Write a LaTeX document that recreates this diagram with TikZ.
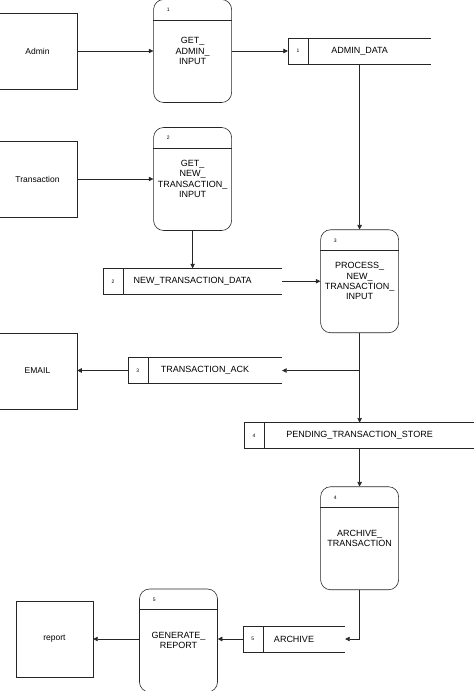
\documentclass[tikz,border=0pt]{standalone}
\usepackage{fontspec}
\setmainfont{Liberation Sans}
\usetikzlibrary{arrows.meta}
\usetikzlibrary{positioning}
\tikzset{
    entity/.style={
      rectangle,
           draw=black!85, line width=0.6pt,
           inner sep=2pt,
           text centered,
           minimum width=79pt,
           minimum height=76pt,
           font=\fontsize{8.5}{10}\selectfont,
           },
}
\tikzset{
    process/.style={
      rectangle,
           draw=black!85, line width=0.6pt,
           rounded corners=10pt,
           inner sep=0pt,
           align=center,
           minimum width=78pt,
           minimum height=103pt,
           font=\fontsize{9}{10.4}\selectfont,
           },
}
\tikzset{
    store/.style={
      rectangle,
           draw=none,
           inner sep=0pt,
           text centered,
           minimum height=25.5pt,
           font=\fontsize{9}{10.4}\selectfont,
           },
}
\tikzset{
    num/.style={
      inner sep=0pt,
           font=\fontsize{5}{6}\selectfont,
           },
}
\tikzset{
    edge/.style={-{Triangle[length=4.5pt,width=4.5pt]},draw=black!85,line width=0.6pt},
    wall/.style={draw=black!85,line width=0.6pt},
}

\begin{document}
\begin{tikzpicture}[x=1pt,y=-1pt]

\useasboundingbox (0,0) rectangle (474,691);

% entities and processes, top to bottom
\node[entity](adm) at (37.5,51){Admin};
\node[process,right = 76pt of adm](p1){GET\_\\ADMIN\_\\INPUT};
\node[store,minimum width=143pt,right = 56pt of p1](s1){ADMIN\_DATA};

\node[entity](trn) at (37.5,179){Transaction};
\node[process,right = 76pt of trn](p2){GET\_\\NEW\_\\TRANSACTION\_\\INPUT};
\node[store,minimum width=179pt,below = 37.5pt of p2](s2){NEW\_TRANSACTION\_DATA};

\node[process,right = 38pt of s2](p3){PROCESS\_\\NEW\_\\TRANSACTION\_\\INPUT};

\node[entity](eml) at (37.5,371){EMAIL};
\node[store,minimum width=154pt](s3) at (205,370.5){TRANSACTION\_ACK};

\node[store,minimum width=231pt,below = 89.5pt of p3](s4){PENDING\_TRANSACTION\_STORE};
\node[process,below = 38pt of s4](p4){ARCHIVE\_\\TRANSACTION};

\node[store,minimum width=102pt](s5) at (294,639){ARCHIVE};
\node[process,left = 25pt of s5,yshift=-1.5pt](p5){GENERATE\_\\REPORT};
\node[entity,minimum width=77pt,left = 46pt of s5.west -| p5.west](rep){report};

% process headers
\draw[wall] ([yshift=-21pt]p1.north west) -- ([yshift=-21pt]p1.north east);
\node[num](p1n) at ([xshift=15pt,yshift=-11pt]p1.north west){1};
\draw[wall] ([yshift=-21pt]p2.north west) -- ([yshift=-21pt]p2.north east);
\node[num](p2n) at ([xshift=15pt,yshift=-11pt]p2.north west){2};
\draw[wall] ([yshift=-21pt]p3.north west) -- ([yshift=-21pt]p3.north east);
\node[num](p3n) at ([xshift=15pt,yshift=-11pt]p3.north west){3};
\draw[wall] ([yshift=-21pt]p4.north west) -- ([yshift=-21pt]p4.north east);
\node[num](p4n) at ([xshift=15pt,yshift=-11pt]p4.north west){4};
\draw[wall] ([yshift=-21pt]p5.north west) -- ([yshift=-21pt]p5.north east);
\node[num](p5n) at ([xshift=15pt,yshift=-11pt]p5.north west){5};

% open stores
\draw[wall] (s1.north east) -- (s1.north west) -- (s1.south west) -- (s1.south east);
\draw[wall] ([xshift=20pt]s1.north west) -- ([xshift=20pt]s1.south west);
\node[num](s1n) at ([xshift=10pt]s1.west){1};
\draw[wall] (s2.north east) -- (s2.north west) -- (s2.south west) -- (s2.south east);
\draw[wall] ([xshift=20pt]s2.north west) -- ([xshift=20pt]s2.south west);
\node[num](s2n) at ([xshift=10pt]s2.west){2};
\draw[wall] (s3.north east) -- (s3.north west) -- (s3.south west) -- (s3.south east);
\draw[wall] ([xshift=20pt]s3.north west) -- ([xshift=20pt]s3.south west);
\node[num](s3n) at ([xshift=10pt]s3.west){3};
\draw[wall] (s4.north east) -- (s4.north west) -- (s4.south west) -- (s4.south east);
\draw[wall] ([xshift=20pt]s4.north west) -- ([xshift=20pt]s4.south west);
\node[num](s4n) at ([xshift=10pt]s4.west){4};
\draw[wall] (s5.north east) -- (s5.north west) -- (s5.south west) -- (s5.south east);
\draw[wall] ([xshift=20pt]s5.north west) -- ([xshift=20pt]s5.south west);
\node[num](s5n) at ([xshift=10pt]s5.west){5};

% flows
\draw[edge] (adm.east) -- (p1.west |- adm.east);
\draw[edge] (p1.east |- s1.west) -- (s1.west);
\draw[edge] (s1.south) -- (p3.north);
\draw[edge] (trn.east) -- (p2.west |- trn.east);
\draw[edge] (p2.south) -- (s2.north);
\draw[edge] (s2.east) -- (p3.west |- s2.east);
\draw[edge] (p3.south) -- (s4.north);
\draw[edge] (p3.south |- s3.east) -- (s3.east);
\draw[edge] (s3.west) -- (eml.east |- s3.west);
\draw[edge] (s4.south) -- (p4.north);
\draw[edge] (p4.south) |- (s5.east);
\draw[edge] (s5.west) -- (p5.east |- s5.west);
\draw[edge] (p5.west |- s5.west) -- (rep.east);

\end{tikzpicture}
\end{document}
